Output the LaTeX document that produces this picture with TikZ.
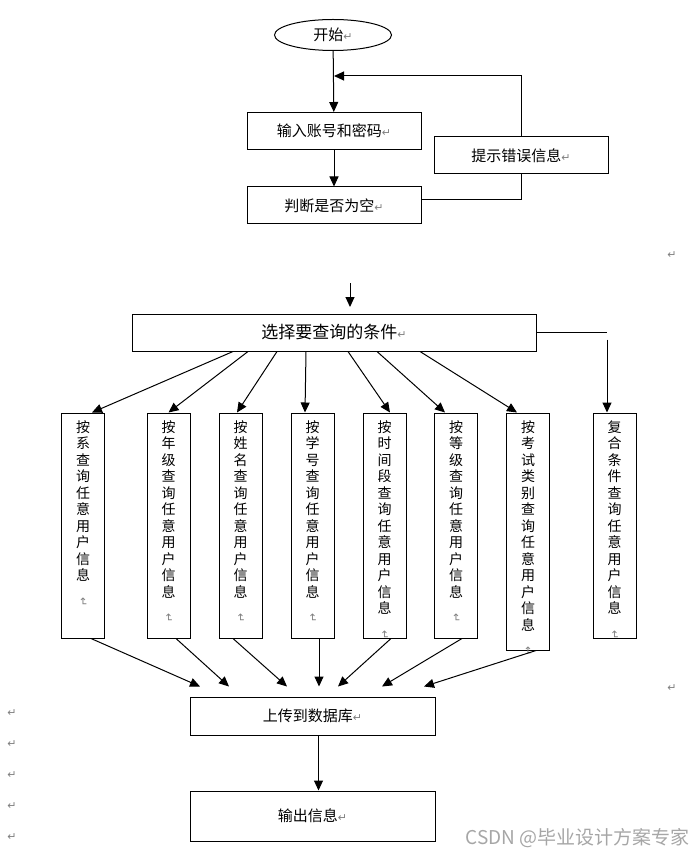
\documentclass[tikz,border=0pt]{standalone}
\usepackage{fontspec}
\setmainfont{Noto Sans CJK SC}
\newfontfamily\symfont{DejaVu Sans}
\usetikzlibrary{arrows.meta,shapes.geometric}
\newcommand\pmark{{\color{gray}\symfont\fontsize{11}{11}\selectfont ↵}}
\newcommand\vmark{\rotatebox{-90}{\pmark}}

\begin{document}
\begin{tikzpicture}[x=1pt, y=-1pt, line width=1pt,
    hbox/.style={draw, rectangle, minimum width=174pt, minimum height=37pt, inner sep=0pt, font=\fontsize{15}{15}\selectfont},
    vbox/.style={draw, rectangle, minimum width=43pt, minimum height=#1, inner sep=0pt},
    vtext/.style={align=center, inner sep=0pt, font=\fontsize{14}{16.5}\selectfont},
    arr/.style={-{Triangle[length=10pt,width=9pt]}}]
        \useasboundingbox (0,0) rectangle (697,858);
        % top part
        \path (333,35) node[ellipse, draw, minimum width=117pt, minimum height=31pt, inner sep=0pt, font=\fontsize{15}{15}\selectfont](start) {开始\pmark}
            (334,131) node[hbox](input) {输入账号和密码\pmark}
            (334,205.5) node[hbox](judge) {判断是否为空\pmark}
            (521,155.5) node[hbox](err) {提示错误信息\pmark}
            (334,332.5) node[hbox, minimum width=404pt, font=\fontsize{17}{17}\selectfont](choose) {选择要查询的条件\pmark};
        \coordinate (loop) at (334,76);
        \draw[arr] (start) -- (input);
        \draw[arr] (input) -- (judge);
        \draw ([yshift=6pt]judge.east) -| (err.south);
        \draw[arr] (err.north) |- (loop);
        \coordinate (in1) at (350,283);
        \coordinate (in2) at (350,307);
        \draw[arr] (in1) -- (in2);
        % query boxes
        \path (83,525.5) node[vbox=225pt](q1) {}
            (168.5,525.5) node[vbox=225pt](q2) {}
            (240.5,525.5) node[vbox=225pt](q3) {}
            (312.5,525.5) node[vbox=225pt](q4) {}
            (384.5,525.5) node[vbox=225pt](q5) {}
            (456,525.5) node[vbox=225pt](q6) {}
            (528,531.5) node[vbox=237pt](q7) {}
            (614.5,525.5) node[vbox=225pt](q8) {};
        \path (83,420) node[vtext, anchor=north](t1) {按\\系\\查\\询\\任\\意\\用\\户\\信\\息\\\vmark}
            (168.5,420) node[vtext, anchor=north](t2) {按\\年\\级\\查\\询\\任\\意\\用\\户\\信\\息\\\vmark}
            (240.5,420) node[vtext, anchor=north](t3) {按\\姓\\名\\查\\询\\任\\意\\用\\户\\信\\息\\\vmark}
            (312.5,420) node[vtext, anchor=north](t4) {按\\学\\号\\查\\询\\任\\意\\用\\户\\信\\息\\\vmark}
            (384.5,420) node[vtext, anchor=north](t5) {按\\时\\间\\段\\查\\询\\任\\意\\用\\户\\信\\息\\\vmark}
            (456,420) node[vtext, anchor=north](t6) {按\\等\\级\\查\\询\\任\\意\\用\\户\\信\\息\\\vmark}
            (528,420) node[vtext, anchor=north](t7) {按\\考\\试\\类\\别\\查\\询\\任\\意\\用\\户\\信\\息\\\vmark}
            (614.5,420) node[vtext, anchor=north](t8) {复\\合\\条\\件\\查\\询\\任\\意\\用\\户\\信\\息\\\vmark};
        \draw[arr] ([xshift=-101pt]choose.south) -- ([xshift=9pt]q1.north);
        \draw[arr] ([xshift=-86pt]choose.south) -- (q2.north);
        \draw[arr] ([xshift=-57pt]choose.south) -- ([xshift=-3.5pt]q3.north);
        \draw[arr] ([xshift=-28pt]choose.south) -- ([xshift=-7.5pt]q4.north);
        \draw[arr] ([xshift=14pt]choose.south) -- ([xshift=5.5pt]q5.north);
        \draw[arr] ([xshift=43pt]choose.south) -- ([xshift=-11pt]q6.north);
        \draw[arr] ([xshift=86pt]choose.south) -- ([xshift=-11pt]q7.north);
        \coordinate (rc) at (607,332.5);
        \draw (choose.east) -- (rc);
        \draw[arr] ([yshift=-7pt]rc) -- (rc |- q8.north);
        % bottom part
        \path (312.5,716) node[hbox, minimum width=245pt, minimum height=38pt](upload) {上传到数据库\pmark}
            (312.5,816) node[hbox, minimum width=245pt, minimum height=50pt](output) {输出信息\pmark};
        \draw[arr] ([xshift=8pt]q1.south) -- ([xshift=-112.5pt, yshift=10pt]upload.north);
        \draw[arr] ([xshift=7.5pt]q2.south) -- ([xshift=-83.5pt, yshift=10pt]upload.north);
        \draw[arr] ([xshift=-7.5pt]q3.south) -- ([xshift=-25.5pt, yshift=10pt]upload.north);
        \draw[arr] ([xshift=6.5pt]q4.south) -- ([xshift=6.5pt, yshift=10pt]upload.north);
        \draw[arr] ([xshift=6.5pt]q5.south) -- ([xshift=25.5pt, yshift=10pt]upload.north);
        \draw[arr] ([xshift=6pt]q6.south) -- ([xshift=69.5pt, yshift=10pt]upload.north);
        \draw[arr] ([xshift=8pt]q7.south) -- ([xshift=111.5pt, yshift=10pt]upload.north);
        \draw[arr] ([xshift=6pt]upload.south) -- ([xshift=6pt]output.north);
        % stray marks
        \path (672,255) node(m1) {\pmark} (672,688) node(m2) {\pmark}
            (12,713) node(m3) {\pmark} (12,744) node(m4) {\pmark} (12,775) node(m5) {\pmark}
            (12,806) node(m6) {\pmark} (12,837) node(m7) {\pmark};
        \path (690,838) node[anchor=east, inner sep=0pt, text=gray!70, font=\fontsize{19}{19}\selectfont](wm) {CSDN @毕业设计方案专家};
    \end{tikzpicture}
\end{document}
